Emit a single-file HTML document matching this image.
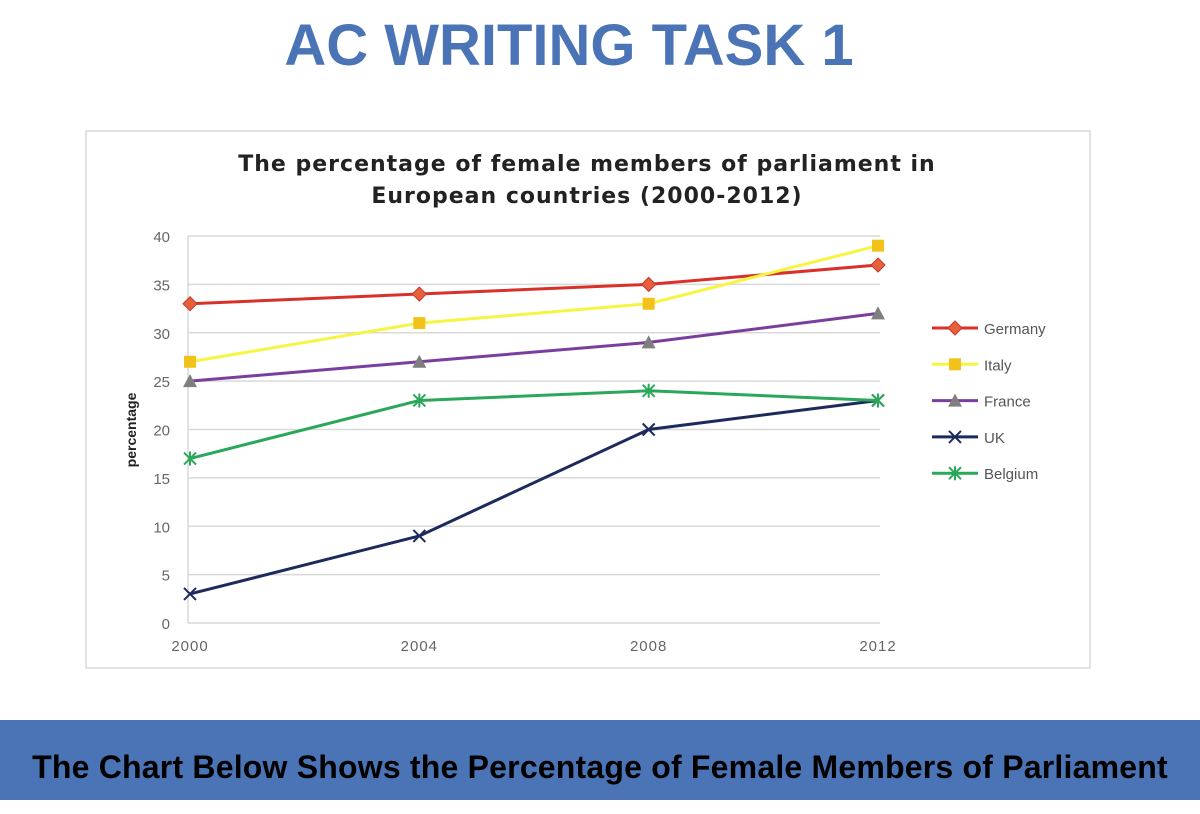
<!DOCTYPE html>
<html><head><meta charset="utf-8"><style>
body{margin:0;width:1200px;height:800px;background:#fff;position:relative;overflow:hidden;font-family:"Liberation Sans",sans-serif}
#title{position:absolute;left:0;width:1138px;top:12px;text-align:center;font-size:58px;font-weight:bold;color:#4a74b6}
#banner{position:absolute;left:0;top:720px;width:1200px;height:80px;background:#4a74b6;color:#000;font-size:32px;font-weight:bold;text-align:center;line-height:94px;letter-spacing:0.2px}
</style></head><body>
<div id="title">AC WRITING TASK 1</div>
<svg id="chart" width="1200" height="720" style="position:absolute;left:0;top:0"></svg>
<div id="banner">The Chart Below Shows the Percentage of Female Members of Parliament</div>
<script>
const years=["2000","2004","2008","2012"];
const yTicks=[0,5,10,15,20,25,30,35,40];
const germany=[33,34,35,37];
const italy=[27,31,33,39];
const france=[25,27,29,32];
const uk=[3,9,20,23];
const belgium=[17,23,24,23];
const seriesNames=["Germany","Italy","France","UK","Belgium"];
const series=[germany,italy,france,uk,belgium];
const colors=["#d9302a","#f5f542","#7a3f9e","#1c2a5c","#2aa85a"];
const markerColors=["#e8603a","#f2c21b","#7f7f7f","#1c2a5c","#2aa85a"];
const markers=["diamond","square","triangle","x","star"];
const svg=document.getElementById('chart');const NS="http://www.w3.org/2000/svg";
function el(t,a,p){const e=document.createElementNS(NS,t);for(const k in a)e.setAttribute(k,a[k]);(p||svg).appendChild(e);return e;}
const x=i=>190+i*(878-190)/(years.length-1);
const y=v=>623-v*(623-236)/40;
const frame=el('rect',{x:86,y:131,width:1004,height:537,fill:'#fff',stroke:'#d9d9d9','stroke-width':1.5});

let t=el('text',{x:587,y:171,'text-anchor':'middle','font-size':22,'font-weight':'bold','fill':'#222','font-family':'DejaVu Sans','letter-spacing':'1'});t.textContent="The percentage of female members of parliament in";

t=el('text',{x:587,y:203,'text-anchor':'middle','font-size':22,'font-weight':'bold','fill':'#222','font-family':'DejaVu Sans','letter-spacing':'1'});t.textContent="European countries (2000-2012)";

yTicks.forEach(v=>{const g=el('line',{x1:188,x2:880,y1:y(v),y2:y(v),stroke:'#d9d9d9','stroke-width':1.5});

const l=el('text',{x:170,y:y(v)+6,'text-anchor':'end','font-size':15,fill:'#666'});l.textContent=v;
});
const ax=el('line',{x1:188,x2:188,y1:236,y2:623,stroke:'#d9d9d9','stroke-width':1.5});
years.forEach((yr,i)=>{const l=el('text',{x:x(i),y:651,'text-anchor':'middle','font-size':15,fill:'#666','letter-spacing':'1'});l.textContent=yr;
});
t=el('text',{x:0,y:0,transform:'translate(136,430) rotate(-90)','text-anchor':'middle','font-size':14,'font-weight':'bold',fill:'#222'});t.textContent="percentage";

function marker(type,cx,cy,c,g){
 if(type=='diamond')el('polygon',{points:`${cx},${cy-7} ${cx+7},${cy} ${cx},${cy+7} ${cx-7},${cy}`,fill:c,stroke:'#c0392b'},g);
 else if(type=='square')el('rect',{x:cx-6,y:cy-6,width:12,height:12,fill:c},g);
 else if(type=='triangle')el('polygon',{points:`${cx},${cy-7} ${cx+7},${cy+6} ${cx-7},${cy+6}`,fill:c},g);
 else if(type=='x'){el('path',{d:`M${cx-6} ${cy-6}L${cx+6} ${cy+6}M${cx+6} ${cy-6}L${cx-6} ${cy+6}`,stroke:c,'stroke-width':2},g);}
 else {el('path',{d:`M${cx-6} ${cy-6}L${cx+6} ${cy+6}M${cx+6} ${cy-6}L${cx-6} ${cy+6}M${cx} ${cy-7}L${cx} ${cy+7}`,stroke:c,'stroke-width':2},g);}
}
series.forEach((s,k)=>{const g=el('g',{});
 el('polyline',{points:s.map((v,i)=>x(i)+','+y(v)).join(' '),fill:'none',stroke:colors[k],'stroke-width':3},g);
 s.forEach((v,i)=>marker(markers[k],x(i),y(v),markerColors[k],g));
 const ly=328+k*36.3;const lg=el('g',{});
 el('line',{x1:932,x2:978,y1:ly,y2:ly,stroke:colors[k],'stroke-width':3},lg);marker(markers[k],955,ly,markerColors[k],lg);
 const lt=el('text',{x:984,y:ly+6,'font-size':15,fill:'#555'},lg);lt.textContent=seriesNames[k];
});
</script>
</body></html>
